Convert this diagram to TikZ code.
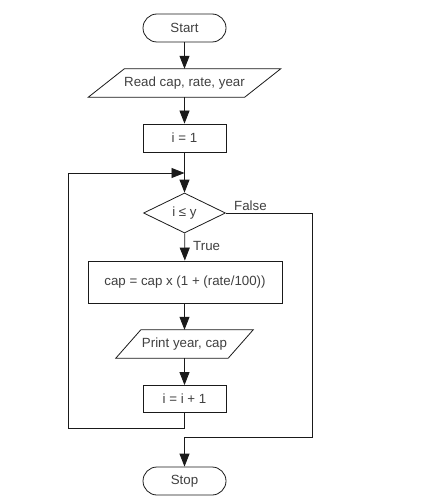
\documentclass[tikz,border=0pt]{standalone}
\usepackage{fontspec}
\setmainfont{Liberation Sans}
\usetikzlibrary{arrows.meta,shapes.geometric}
\definecolor{txt}{HTML}{404040}
\definecolor{ln}{HTML}{1A1A1A}
\begin{document}
\begin{tikzpicture}[x=1pt,y=-1pt,
  every node/.style={font=\fontsize{13.3}{15}\selectfont, text=txt},
  conn/.style={draw=ln, line width=0.8pt},
  arr/.style={conn, -{Triangle[length=13pt,width=10pt]}},
  term/.style={draw=ln, line width=0.8pt, rounded corners=14pt, minimum width=83pt, minimum height=28pt, inner sep=0pt},
  procbox/.style={draw=ln, line width=0.8pt, minimum width=83pt, minimum height=28pt, inner sep=0pt},
  iobox/.style={minimum height=28pt, inner sep=0pt},
  decis/.style={draw=ln, line width=0.8pt, diamond, aspect=2.05, minimum width=82pt, minimum height=40pt, inner sep=0pt},
  lbl/.style={inner sep=0pt}]
\useasboundingbox (0,0) rectangle (428,500);
\fill[white] (0,0) rectangle (428,500);
\node[term] (start) at (184.5,28) {Start};
\node[iobox, minimum width=156pt] (read) at (184.5,83) {Read cap, rate, year};
\draw[conn] ([xshift=18pt]read.north west) -- ([xshift=18pt]read.north east) -- ([xshift=-18pt]read.south east) -- ([xshift=-18pt]read.south west) -- cycle;
\node[procbox] (init) at (184.5,138) {i = 1};
\node[decis] (cond) at (184.5,213) {i ≤ y};
\node[procbox, minimum width=194pt, minimum height=42pt] (calc) at (185,282) {cap = cap x (1 + (rate/100))};
\node[iobox, minimum width=112pt] (print) at (184.5,344) {Print year, cap};
\draw[conn] ([xshift=12.5pt]print.north west) -- ([xshift=12.5pt]print.north east) -- ([xshift=-12.5pt]print.south east) -- ([xshift=-12.5pt]print.south west) -- cycle;
\node[procbox, minimum height=27pt] (inc) at (184.5,399) {i = i + 1};
\node[term] (stop) at (184.5,481) {Stop};
\coordinate (join) at (184.5,173);
\coordinate (loopa) at (184.5,428);
\coordinate (loopb) at (68,428);
\coordinate (loopc) at (68,173);
\coordinate (fa) at (312,213);
\coordinate (fb) at (312,437);
\coordinate (fc) at (184.5,437);
\draw[arr] (start) -- (read);
\draw[arr] (read) -- (init);
\draw[arr] (init) -- (cond);
\draw[arr] (cond) -- (calc);
\draw[arr] (calc.south -| print.north) -- (print);
\draw[arr] (print) -- (inc);
\draw[arr] (inc.south) -- (loopa) -- (loopb) -- (loopc) -- (join);
\draw[arr] (cond.east) -- (fa) -- (fb) -- (fc) -- (stop);
\node[lbl, anchor=south west] (ftext) at (234,211) {False};
\node[lbl, anchor=west] (ttext) at (193,246) {True};
\end{tikzpicture}
\end{document}
